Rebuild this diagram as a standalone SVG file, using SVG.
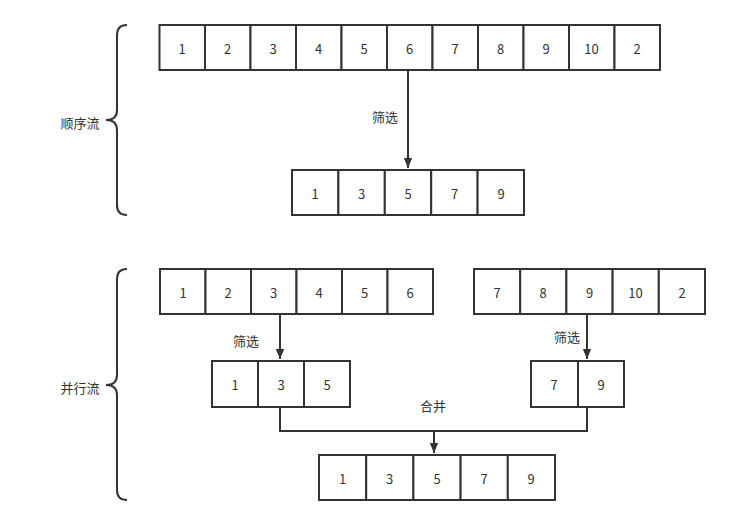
<svg xmlns="http://www.w3.org/2000/svg" width="730" height="525" viewBox="0 0 730 525">
<style>
.c{fill:#fff;stroke:#333;stroke-width:2}
text{font-family:"Noto Sans CJK SC","Liberation Sans",sans-serif;font-size:13px;fill:#333;text-anchor:middle;dominant-baseline:central}
.l{fill:none;stroke:#333;stroke-width:2}
</style>
<defs><marker id="a" markerWidth="10" markerHeight="10" refX="5" refY="9" orient="auto" markerUnits="userSpaceOnUse" viewBox="0 0 10 10"><path d="M0,0 L10,0 L5,10 Z" transform="rotate(-90 5 5)" fill="#333"/></marker>
<marker id="b" markerWidth="10" markerHeight="12" refX="12" refY="5" orient="auto" markerUnits="userSpaceOnUse" viewBox="0 0 12 10"><path d="M0,0 L12,5 L0,10 Z" fill="#333"/></marker></defs>
<g id="labels">
<path class="l" d="M127,25 Q117,25 117,35 L117,110 Q117,120 106,120 Q117,120 117,130 L117,205 Q117,215 127,215"/>
<text x="80" y="122">顺序流</text>
<path class="l" d="M127,269 Q117,269 117,279 L117,375 Q117,385 106,385 Q117,385 117,395 L117,490 Q117,500 127,500"/>
<text x="80" y="387">并行流</text>
</g>
<g id="seq-top">
<rect class="c" x="159.5" y="25" width="45.5" height="45"/><text x="182" y="48">1</text>
<rect class="c" x="205" y="25" width="45.5" height="45"/><text x="227.5" y="48">2</text>
<rect class="c" x="250.5" y="25" width="45.5" height="45"/><text x="273" y="48">3</text>
<rect class="c" x="296" y="25" width="45.5" height="45"/><text x="318.5" y="48">4</text>
<rect class="c" x="341.5" y="25" width="45.5" height="45"/><text x="364" y="48">5</text>
<rect class="c" x="387" y="25" width="45.5" height="45"/><text x="409.5" y="48">6</text>
<rect class="c" x="432.5" y="25" width="45.5" height="45"/><text x="455" y="48">7</text>
<rect class="c" x="478" y="25" width="45.5" height="45"/><text x="500.5" y="48">8</text>
<rect class="c" x="523.5" y="25" width="45.5" height="45"/><text x="546" y="48">9</text>
<rect class="c" x="569" y="25" width="45.5" height="45"/><text x="591.5" y="48">10</text>
<rect class="c" x="614.5" y="25" width="45.5" height="45"/><text x="637" y="48">2</text>
</g>
<g id="seq-bottom">
<rect class="c" x="292" y="170" width="46.4" height="45"/><text x="315" y="193">1</text>
<rect class="c" x="338.4" y="170" width="46.4" height="45"/><text x="361.5" y="193">3</text>
<rect class="c" x="384.8" y="170" width="46.4" height="45"/><text x="408" y="193">5</text>
<rect class="c" x="431.2" y="170" width="46.4" height="45"/><text x="454.5" y="193">7</text>
<rect class="c" x="477.6" y="170" width="46.4" height="45"/><text x="501" y="193">9</text>
</g>
<g id="par-left">
<rect class="c" x="160" y="269" width="45.5" height="45"/><text x="183" y="292">1</text>
<rect class="c" x="205.5" y="269" width="45.5" height="45"/><text x="228" y="292">2</text>
<rect class="c" x="251" y="269" width="45.5" height="45"/><text x="273.5" y="292">3</text>
<rect class="c" x="296.5" y="269" width="45.5" height="45"/><text x="319" y="292">4</text>
<rect class="c" x="342" y="269" width="45.5" height="45"/><text x="364.5" y="292">5</text>
<rect class="c" x="387.5" y="269" width="45.5" height="45"/><text x="410" y="292">6</text>
</g>
<g id="par-right">
<rect class="c" x="474" y="269" width="46.2" height="45"/><text x="497" y="292">7</text>
<rect class="c" x="520.2" y="269" width="46.2" height="45"/><text x="543" y="292">8</text>
<rect class="c" x="566.4" y="269" width="46.2" height="45"/><text x="589.5" y="292">9</text>
<rect class="c" x="612.6" y="269" width="46.2" height="45"/><text x="635.5" y="292">10</text>
<rect class="c" x="658.8" y="269" width="46.2" height="45"/><text x="682" y="292">2</text>
</g>
<g id="mid-left">
<rect class="c" x="212" y="361" width="46" height="46"/><text x="235" y="384">1</text>
<rect class="c" x="258" y="361" width="46" height="46"/><text x="281" y="384">3</text>
<rect class="c" x="304" y="361" width="46" height="46"/><text x="327" y="384">5</text>
</g>
<g id="mid-right">
<rect class="c" x="531" y="361" width="47" height="46"/><text x="554" y="384">7</text>
<rect class="c" x="578" y="361" width="46" height="46"/><text x="601" y="384">9</text>
</g>
<g id="par-bottom">
<rect class="c" x="319" y="455" width="47.2" height="45"/><text x="342.5" y="478">1</text>
<rect class="c" x="366.2" y="455" width="47.2" height="45"/><text x="389.5" y="478">3</text>
<rect class="c" x="413.4" y="455" width="47.2" height="45"/><text x="437" y="478">5</text>
<rect class="c" x="460.6" y="455" width="47.2" height="45"/><text x="484" y="478">7</text>
<rect class="c" x="507.8" y="455" width="47.2" height="45"/><text x="531" y="478">9</text>
</g>
<g id="connectors">
<line class="l" x1="408" y1="70" x2="408" y2="168" marker-end="url(#b)"/>
<text x="385" y="116">筛选</text>
<line class="l" x1="280" y1="314" x2="280" y2="359" marker-end="url(#b)"/>
<text x="246" y="340">筛选</text>
<line class="l" x1="587" y1="314" x2="587" y2="359" marker-end="url(#b)"/>
<text x="567" y="336">筛选</text>
<path class="l" d="M280,407 V431 H587 V407"/>
<line class="l" x1="434" y1="431" x2="434" y2="453" marker-end="url(#b)"/>
<text x="433" y="405">合并</text>
</g>
</svg>
